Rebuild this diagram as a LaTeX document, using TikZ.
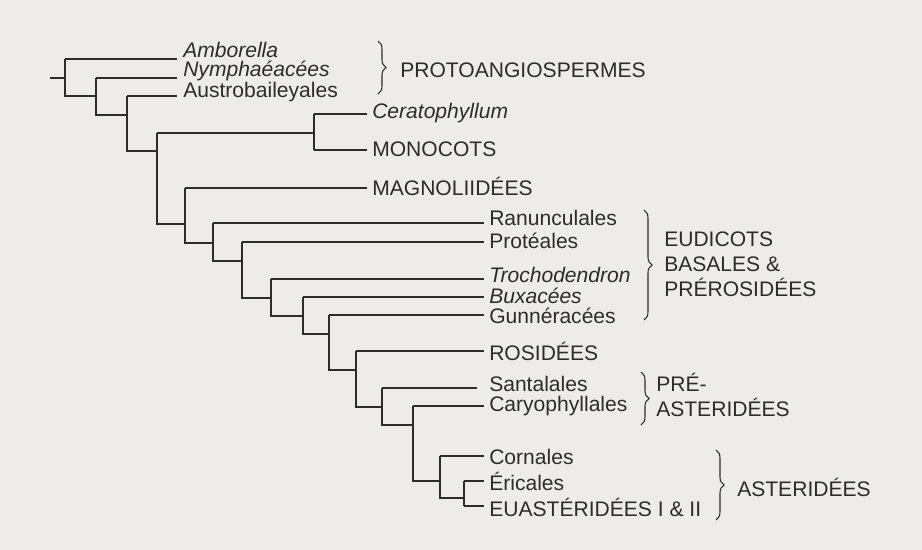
\documentclass[tikz,border=0pt]{standalone}
\usepackage{fontspec}
\setmainfont{Liberation Sans}
\usetikzlibrary{decorations.pathreplacing}
\definecolor{bg}{HTML}{EEECE9}
\definecolor{ink}{HTML}{2F2B28}
\begin{document}
\begin{tikzpicture}[x=0.75pt,y=-0.75pt,
  br/.style={line width=1.1pt,ink},
  lbl/.style={anchor=west,inner sep=0pt,text=ink,font=\fontsize{15.8}{18.75}\selectfont},
  brc/.style={ink,line width=0.8pt,decorate,decoration={brace,amplitude=6pt}}]
\fill[bg] (0,0) rectangle (922,550);
\useasboundingbox (0,0) rectangle (922,550);
\draw[br] (50,78)--(65,78);
\draw[br] (65,59)--(65,96)--(96,96);
\draw[br] (96,78)--(96,115)--(127,115);
\draw[br] (127,96)--(127,151)--(157,151);
\draw[br] (314,114)--(314,150);
\draw[br] (157,133)--(314,133);
\draw[br] (157,133)--(157,224)--(185,224);
\draw[br] (185,188)--(185,243)--(213,243);
\draw[br] (213,223)--(213,261)--(242,261);
\draw[br] (242,242)--(242,298)--(271,298);
\draw[br] (271,279)--(271,316)--(303,316);
\draw[br] (303,297)--(303,334)--(329,334);
\draw[br] (329,315)--(329,370)--(356,370);
\draw[br] (356,351)--(356,407)--(382,407);
\draw[br] (382,388)--(382,425)--(413,425);
\draw[br] (413,406)--(413,481)--(440,481);
\draw[br] (440,456)--(440,498)--(464,498);
\draw[br] (464,481)--(464,506);
\node[lbl] (amb) at (183,50) {\itshape Amborella};
\node[lbl] (nym) at (183,71) {\itshape Nymphaéacées};
\node[lbl] (aus) at (183,92) {Austrobaileyales};
\node[lbl] (cer) at (372,113) {\itshape Ceratophyllum};
\node[lbl] (mon) at (372,149) {MONOCOTS};
\node[lbl] (mag) at (372,186) {MAGNOLIIDÉES};
\node[lbl] (ran) at (489,218) {Ranunculales};
\node[lbl] (pro) at (489,241) {Protéales};
\node[lbl] (tro) at (489,275) {\itshape Trochodendron};
\node[lbl] (bux) at (489,296) {\itshape Buxacées};
\node[lbl] (gun) at (489,316) {Gunnéracées};
\node[lbl] (ros) at (489,351) {ROSIDÉES};
\node[lbl] (san) at (489,384) {Santalales};
\node[lbl] (car) at (489,406) {Caryophyllales};
\node[lbl] (cor) at (489,457) {Cornales};
\node[lbl] (eri) at (489,481) {Éricales};
\node[lbl] (eua) at (489,507) {EUASTÉRIDÉES I \& II};
\draw[br] (65,59)--(177,59);
\draw[br] (96,78)--(177,78);
\draw[br] (127,96)--(177,96);
\draw[br] (314,114)--(367,114);
\draw[br] (314,150)--(367,150);
\draw[br] (185,188)--(367,188);
\draw[br] (213,223)--(484,223);
\draw[br] (242,242)--(484,242);
\draw[br] (271,279)--(484,279);
\draw[br] (303,297)--(484,297);
\draw[br] (329,315)--(484,315);
\draw[br] (356,351)--(484,351);
\draw[br] (382,388)--(477,388);
\draw[br] (413,406)--(484,406);
\draw[br] (440,456)--(484,456);
\draw[br] (464,481)--(484,481);
\draw[br] (464,506)--(484,506);
\draw[brc] (378,41)--(378,94);
\node[lbl] (g1) at (400,70) {PROTOANGIOSPERMES};
\draw[brc] (644,210)--(644,320);
\node[lbl,align=left,anchor=north west] (g2) at (664,232) {EUDICOTS\\BASALES \&\\PRÉROSIDÉES};
\draw[brc] (641,372)--(641,425);
\node[lbl,align=left,anchor=north west] (g3) at (656,373) {PRÉ-\\ASTERIDÉES};
\draw[brc] (716,450)--(716,520);
\node[lbl] (g4) at (737,487) {ASTERIDÉES};
\end{tikzpicture}
\end{document}
